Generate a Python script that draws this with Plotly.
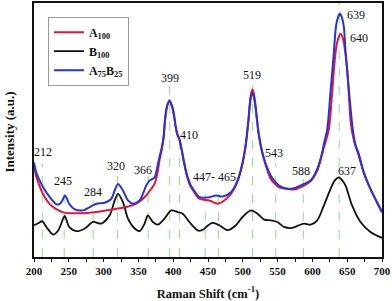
import plotly.graph_objects as go

# ---------------- data (Raman shift in cm^-1, intensity in a.u.) ----------------
a100_x = [200, 202.9, 206.2, 213.3, 222.9, 232.5, 241.9, 265.8, 289.7, 318.4, 332.7, 347.0,
          361.3, 366.0, 373.2, 377.5, 380.4, 383.2, 386.0, 388.5, 391.0, 394.7, 398.5, 401.5,
          403.5, 406.0, 409.0, 411.8, 414.7, 417.6, 420.9, 424.7, 430.5, 437.6, 451.9, 463.8,
          473.4, 483.0, 492.4, 499.6, 503.5, 506.0, 508.0, 510.0, 512.0, 514.0, 516.0, 518.0,
          520.0, 522.0, 524.5, 527.5, 531.0, 535.0, 540.2, 546.4, 552.1, 564.0, 573.6, 587.9,
          597.5, 607.0, 616.5, 623.7, 628.0, 631.0, 634.0, 637.0, 640.4, 644.0, 647.0, 650.0,
          652.3, 655.2, 659.5, 666.6, 673.8, 683.4, 692.8, 700]
a100_y = [93, 82, 75, 63, 53, 48, 45, 44, 45.3, 48.7, 50.3, 53.7,
          62, 66.5, 73.7, 85, 98, 107, 119, 139, 151, 157, 151, 141,
          131, 123, 118, 109, 98, 88, 79, 71.5, 65, 58.7, 57, 53.7,
          57, 63.7, 76, 94, 109, 123, 137, 154, 165, 168.7, 164, 155,
          142, 129, 117, 106, 97, 88, 78.7, 73.5, 70.3, 68.7, 68, 72,
          76.5, 87, 110.3, 129, 162, 190, 210, 220, 224.7, 220, 208, 190,
          165, 135, 118, 102, 85, 68.5, 55, 45]

b100_x = [200, 206, 211.9, 218, 227.6, 235, 241.9, 244.4, 250.5, 261.1, 273.0, 284.9, 296.9,
          308.8, 315.9, 320.7, 327.8, 335.0, 344.6, 351.7, 358.9, 363.6, 370.8, 377.9, 387.5,
          397.1, 406.5, 413.7, 423.3, 436, 444, 447.2, 456.6, 466.2, 478.1, 490.1, 499.6,
          511.6, 521.1, 530.7, 540.2, 549.7, 559.3, 571.2, 580.8, 587.9, 597.5, 607.0, 616.5,
          626.1, 632, 638.0, 642, 647.6, 657.0, 669.1, 683.4, 700]
b100_y = [32, 34, 36, 30, 22.7, 27, 38.7, 41.3, 30.3, 26, 28.7, 35.3, 33.7,
          42, 57, 63.7, 55.3, 38.7, 28.7, 26, 33.7, 42, 35.3, 32.7, 38.7,
          47, 45.3, 43.7, 35.3, 26.5, 28, 30.3, 34.3, 32, 27, 32, 40.3,
          47, 43.7, 37.7, 37, 35.3, 30.3, 29.3, 32, 33.7, 32.7, 37, 52,
          68.7, 77, 80.3, 78, 72, 52, 35.3, 25.3, 19.3]

a75b25_x = [200, 202.9, 206.2, 213.3, 222.9, 232.5, 237.2, 241.5, 244.4, 247.2, 250.5, 258.7,
            270.6, 280.2, 289.7, 301.6, 311.2, 315.9, 320.7, 327.8, 335.0, 342.1, 351.7, 361.3,
            366.0, 373.2, 377.5, 380.4, 383.2, 386.0, 388.5, 391.0, 394.7, 398.5, 401.5, 403.5,
            406.0, 409.0, 411.8, 414.7, 417.6, 420.9, 424.7, 430.5, 437.6, 451.9, 461.5, 471.0,
            483.0, 492.4, 499.6, 503.5, 506.0, 508.0, 510.0, 512.0, 514.0, 516.0, 518.0, 520.0,
            522.0, 524.5, 527.5, 531.0, 535.0, 540.2, 546.4, 552.1, 564.0, 573.6, 587.9, 597.5,
            607.0, 614.1, 616.5, 621.3, 626.1, 630.9, 634.0, 637.0, 639.4, 642.0, 645.0, 647.6,
            652.3, 658.0, 662.3, 666.6, 673.8, 683.4, 692.8, 700]
a75b25_y = [95.3, 86, 80, 70, 60, 53, 53.5, 58, 62, 59, 53.7, 48,
            47, 50.3, 53.7, 54.7, 58.7, 67, 73.7, 67, 57, 53.7, 57, 72,
            77, 80.3, 92, 101, 109, 120, 140, 152, 158, 152, 142, 132,
            124, 119, 110, 99, 89, 80, 73, 66.5, 60.3, 60.3, 62, 61,
            65.3, 77, 95, 110, 124, 137, 152, 162, 165.3, 161, 152, 140,
            128, 117, 107, 98, 90, 82, 76, 72, 68.7, 69.3, 73.7, 77,
            88.7, 105.3, 114, 128.7, 167, 207, 233, 242, 245.3, 242, 233, 207,
            169, 128.7, 112, 104, 85.3, 68.7, 55.3, 45.3]

# peak marker lines (position, top of the marker)
peak_line_x = [211.9, 243.4, 285, 320, 364, 395, 409, 446, 465, 514, 547.4, 587, 638.5]
peak_line_top = [94, 65, 57, 84, 82, 173, 117, 70, 70, 176, 95, 79, 256]

# peak labels
peak_labels = ["212", "245", "284", "320", "366", "399", "410", "447- 465", "519", "543",
               "588", "637", "639", "640"]
peak_label_x = [213.3, 241.9, 284.9, 318.4, 356.5, 395.7, 423.3, 459, 513.9, 545,
                583.2, 650, 662, 666.6]
peak_label_y = [106, 77, 65.5, 92, 88, 180, 123, 81, 183.5, 104.5,
                87, 87, 244, 221]

x_range = [200, 700]
y_range = [0, 256]

SERIF = "Liberation Serif, Times New Roman, serif"

fig = go.Figure()

fig.add_trace(go.Scatter(x=b100_x, y=b100_y, mode="lines", name="<b>B<sub>100</sub></b>",
                         line=dict(color="#111111", width=1.8, shape="spline", smoothing=0.8),
                         legendrank=2))
fig.add_trace(go.Scatter(x=a100_x, y=a100_y, mode="lines", name="<b>A<sub>100</sub></b>",
                         line=dict(color="#EE1133", width=2, shape="spline", smoothing=0.8),
                         legendrank=1))
fig.add_trace(go.Scatter(x=a75b25_x, y=a75b25_y, mode="lines",
                         name="<b>A<sub>75</sub>B<sub>25</sub></b>",
                         line=dict(color="#2233DD", width=2, shape="spline", smoothing=0.8),
                         legendrank=3))

for px, top in zip(peak_line_x, peak_line_top):
    fig.add_shape(type="line", xref="x", yref="y", x0=px, x1=px, y0=0, y1=top,
                  line=dict(color="#8EE08E", width=1, dash="dash"), layer="below")

for t, lx, ly in zip(peak_labels, peak_label_x, peak_label_y):
    fig.add_annotation(x=lx, y=ly, xref="x", yref="y", text=t, showarrow=False,
                       font=dict(family=SERIF, size=12, color="#111111"),
                       xanchor="center", yanchor="middle")

fig.add_annotation(x=-0.0716, y=0.49, xref="paper", yref="paper",
                   text="<b>Intensity (a.u.)</b>", textangle=-90, showarrow=False,
                   font=dict(family=SERIF, size=13, color="#111111"),
                   xanchor="center", yanchor="middle")

fig.update_layout(
    width=392, height=301,
    margin=dict(l=34, r=9, t=1, b=44),
    paper_bgcolor="white", plot_bgcolor="white",
    showlegend=True,
    legend=dict(x=0.04, y=0.946, xanchor="left", yanchor="top",
                bgcolor="white", bordercolor="#999999", borderwidth=1,
                font=dict(family=SERIF, size=12, color="#111111"),
                itemwidth=30, tracegroupgap=0),
    xaxis=dict(range=x_range, dtick=50, tick0=200, showgrid=False, zeroline=False,
               showline=True, mirror=True, linecolor="#111111", linewidth=1.5,
               ticks="outside", ticklen=3, tickcolor="#111111",
               minor=dict(dtick=25, ticks="outside", ticklen=3, tickcolor="#111111"),
               tickfont=dict(family=SERIF, size=11, color="#111111", weight="bold"),
               title=dict(text="<b>Raman Shift (cm<sup>-1</sup>)</b>", standoff=13,
                          font=dict(family=SERIF, size=12.5, color="#111111"))),
    yaxis=dict(range=y_range, showgrid=False, zeroline=False, showticklabels=False,
               ticks="", showline=True, mirror=True, linecolor="#111111", linewidth=1.5),
)

fig.write_html("out.html")
